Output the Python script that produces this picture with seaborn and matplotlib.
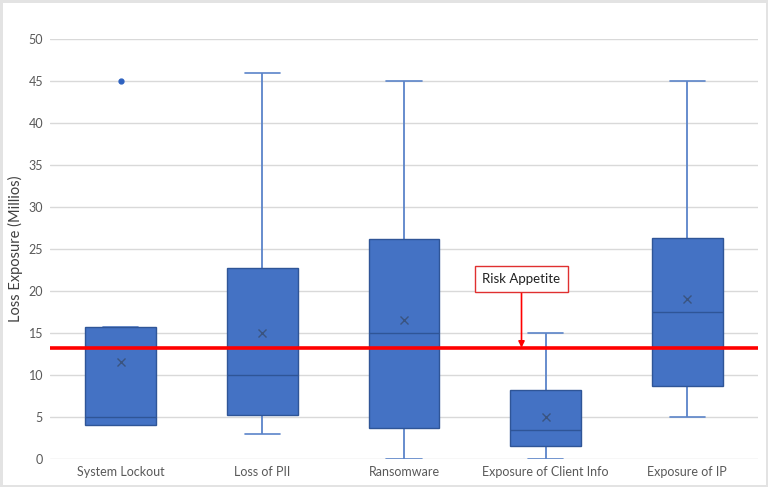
import matplotlib
matplotlib.use("Agg")
import matplotlib.pyplot as plt
import seaborn as sns
import pandas as pd

categories = ["System Lockout", "Loss of PII", "Ransomware", "Exposure of Client Info", "Exposure of IP"]
minimum = [4.0, 3.0, 0.0, 0.0, 5.0]
q1 = [4.0, 5.2, 3.7, 1.5, 8.7]
median = [5.0, 10.0, 15.0, 3.5, 17.5]
q3 = [15.75, 22.7, 26.2, 8.2, 26.3]
maximum = [45.0, 46.0, 45.0, 15.0, 45.0]
means = [11.5, 15.0, 16.6, 5.0, 19.1]
risk_appetite = 13.25
y_ticks = [0, 5, 10, 15, 20, 25, 30, 35, 40, 45, 50]

rows = []
for i, c in enumerate(categories):
    for v in (minimum[i], q1[i], median[i], q3[i], maximum[i]):
        rows.append({"Risk": c, "Loss": v})
df = pd.DataFrame(rows)

sns.set_theme(style="white")
plt.rcParams["font.family"] = ["Lato", "DejaVu Sans"]

fig = plt.figure(figsize=(7.68, 4.87), dpi=100, edgecolor="#E3E3E3", linewidth=2.5)
ax = fig.add_axes([0.065, 0.0575, 0.922, 0.8625])

blue = "#4472C4"
edge = "#2F5597"
sns.boxplot(data=df, x="Risk", y="Loss", order=categories, ax=ax, width=0.5,
            whis=1.5, saturation=1, color=blue, linecolor=edge, linewidth=1,
            boxprops=dict(zorder=2.5),
            whiskerprops=dict(color="#5B84C9", linewidth=1.3, zorder=1.5),
            capprops=dict(color="#5B84C9", linewidth=1.2, zorder=1.5),
            medianprops=dict(color="#2F5597", linewidth=1, zorder=2.6),
            flierprops=dict(marker="o", markersize=3.5, markerfacecolor="#2E62C0",
                            markeredgecolor="#2E62C0"))

sns.pointplot(x=categories, y=means, order=categories, ax=ax, linestyle="none",
              marker="x", color="#3A5480", markersize=6, markeredgewidth=1, zorder=4)

ax.axhline(risk_appetite, color="#FF0000", linewidth=2.6, zorder=5)

ax.annotate("Risk Appetite", xy=(2.83, risk_appetite), xytext=(2.83, 21.4),
            ha="center", va="center", fontsize=9.5, color="#222222",
            bbox=dict(boxstyle="square,pad=0.55", fc="white", ec="#E03030", lw=1),
            arrowprops=dict(arrowstyle="-|>", color="#FF0000", lw=1.2,
                            mutation_scale=9, shrinkA=0, shrinkB=0),
            zorder=6)

ax.set_ylim(0, 50)
ax.set_xlim(-0.5, 4.5)
ax.set_yticks(y_ticks)
ax.yaxis.grid(True, color="#D9D9D9", linewidth=1)
ax.set_axisbelow(True)
for s in ax.spines.values():
    s.set_visible(False)
ax.tick_params(axis="both", length=0, labelsize=9, colors="#595959", pad=5)
ax.set_xlabel("")
ax.set_ylabel("Loss Exposure (Millios)", fontsize=10.5, color="#404040", labelpad=4)

fig.savefig("out.png", dpi=100, edgecolor=fig.get_edgecolor())
